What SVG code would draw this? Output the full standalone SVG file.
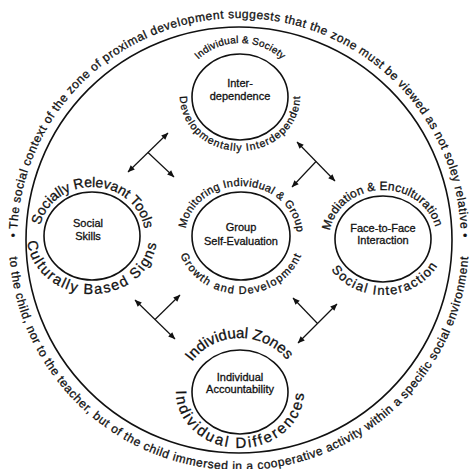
<svg xmlns="http://www.w3.org/2000/svg" width="474" height="469" viewBox="0 0 474 469">
<style>
text{font-family:"Liberation Sans",Arial,sans-serif;fill:#111;stroke:#111;stroke-width:0.3}
.ring{fill:none;stroke:#111;stroke-width:1.6}
.node{fill:#fff;stroke:#111;stroke-width:1.6}
.in{font-size:11px;text-anchor:middle}
.lab{text-anchor:middle}
.conn line{stroke:#111;stroke-width:1.2}
</style>
<defs>
<marker id="ah" viewBox="0 0 10 10" refX="9.5" refY="5" markerWidth="8" markerHeight="7" markerUnits="userSpaceOnUse" orient="auto-start-reverse"><path d="M0,0.8 L10,5 L0,9.2 z" fill="#111"/></marker>
<path id="pTop" d="M20.37 278.55 A222 222 0 1 1 457.63 278.55"/>
<path id="pBot" d="M12.5 200.06 A230 230 0 1 0 465.5 200.06"/>
<path id="T1" d="M183.98 110.98 A58 54 0 1 1 296.02 110.98"/>
<path id="T2" d="M182.05 83.02 A60 54 0 1 0 297.95 83.02"/>
<path id="C1" d="M186.91 248.94 A56 50 0 1 1 295.09 248.94"/>
<path id="C2" d="M179.18 220.99 A64 58 0 1 0 302.82 220.99"/>
<path id="L1" d="M40.81 248.68 A53 49 0 1 1 143.19 248.68"/>
<path id="L2" d="M29.22 220.99 A65 58 0 1 0 154.78 220.99"/>
<path id="R1" d="M330.84 251.68 A54 49 0 1 1 435.16 251.68"/>
<path id="R2" d="M323.11 224.51 A62 56 0 1 0 442.89 224.51"/>
<path id="B1" d="M183.98 405.98 A58 54 0 1 1 296.02 405.98"/>
<path id="B2" d="M178.18 377.51 A64 56 0 1 0 301.82 377.51"/>
</defs>
<rect width="474" height="469" fill="#fff"/>
<g id="outer">
<circle class="ring" cx="239" cy="240" r="213"/>
<text class="lab" font-size="12"><textPath href="#pTop" startOffset="50%" textLength="692" lengthAdjust="spacing">• The social context of the zone of proximal development suggests that the zone must be viewed as not soley relative •</textPath></text>
<text class="lab" font-size="12"><textPath href="#pBot" startOffset="50%" textLength="688" lengthAdjust="spacing">to the child, nor to the teacher, but of the child immersed in a cooperative activity within a specific social environment</textPath></text>
</g>
<g id="connectors" class="conn">
<line x1="128" y1="172" x2="168" y2="133" marker-start="url(#ah)" marker-end="url(#ah)"/>
<line x1="148" y1="152.5" x2="174" y2="177" marker-end="url(#ah)"/>
<line x1="297" y1="142" x2="335" y2="181" marker-start="url(#ah)" marker-end="url(#ah)"/>
<line x1="316" y1="161.5" x2="292" y2="187" marker-end="url(#ah)"/>
<line x1="135" y1="300" x2="175" y2="339" marker-start="url(#ah)" marker-end="url(#ah)"/>
<line x1="155" y1="319.5" x2="180" y2="295" marker-end="url(#ah)"/>
<line x1="337" y1="304" x2="298" y2="343" marker-start="url(#ah)" marker-end="url(#ah)"/>
<line x1="317.5" y1="323.5" x2="293" y2="298" marker-end="url(#ah)"/>
</g>
<g id="node-interdependence">
<ellipse class="node" cx="240" cy="97" rx="48" ry="43"/>
<text class="in" x="240" y="87">Inter-</text>
<text class="in" x="240" y="100">dependence</text>
<text class="lab" font-size="10"><textPath href="#T1" startOffset="50%" textLength="92" lengthAdjust="spacing">Individual &amp; Society</textPath></text>
<text class="lab" font-size="10.5"><textPath href="#T2" startOffset="50%" textLength="180" lengthAdjust="spacing">Developmentally Interdependent</textPath></text>
</g>
<g id="node-group">
<ellipse class="node" cx="241" cy="236" rx="49" ry="44"/>
<text class="in" x="241" y="231">Group</text>
<text class="in" x="241" y="244.5">Self-Evaluation</text>
<text class="lab" font-size="11"><textPath href="#C1" startOffset="51%" textLength="155" lengthAdjust="spacing">Monitoring Individual &amp; Group</textPath></text>
<text class="lab" font-size="11"><textPath href="#C2" startOffset="49.8%" textLength="152" lengthAdjust="spacing">Growth and Development</textPath></text>
</g>
<g id="node-social">
<ellipse class="node" cx="92" cy="236" rx="48" ry="44"/>
<text class="in" x="88" y="227">Social</text>
<text class="in" x="88" y="240">Skills</text>
<text class="lab" font-size="14"><textPath href="#L1" startOffset="51%" textLength="142" lengthAdjust="spacing">Socially Relevant Tools</textPath></text>
<text class="lab" font-size="14.5"><textPath href="#L2" startOffset="49.5%" textLength="180" lengthAdjust="spacing">Culturally Based Signs</textPath></text>
</g>
<g id="node-face">
<ellipse class="node" cx="383" cy="239" rx="48" ry="43"/>
<text class="in" x="383" y="232">Face-to-Face</text>
<text class="in" x="383" y="244">Interaction</text>
<text class="lab" font-size="12"><textPath href="#R1" startOffset="49%" textLength="141" lengthAdjust="spacing">Mediation &amp; Enculturation</textPath></text>
<text class="lab" font-size="13"><textPath href="#R2" startOffset="51%" textLength="124" lengthAdjust="spacing">Social Interaction</textPath></text>
</g>
<g id="node-individual">
<ellipse class="node" cx="240" cy="392" rx="48" ry="42"/>
<text class="in" x="240" y="381">Individual</text>
<text class="in" x="240" y="393">Accountability</text>
<text class="lab" font-size="15"><textPath href="#B1" startOffset="49.5%" textLength="109" lengthAdjust="spacing">Individual Zones</textPath></text>
<text class="lab" font-size="15"><textPath href="#B2" startOffset="49.3%" textLength="188" lengthAdjust="spacing">Individual Differences</textPath></text>
</g>
</svg>
